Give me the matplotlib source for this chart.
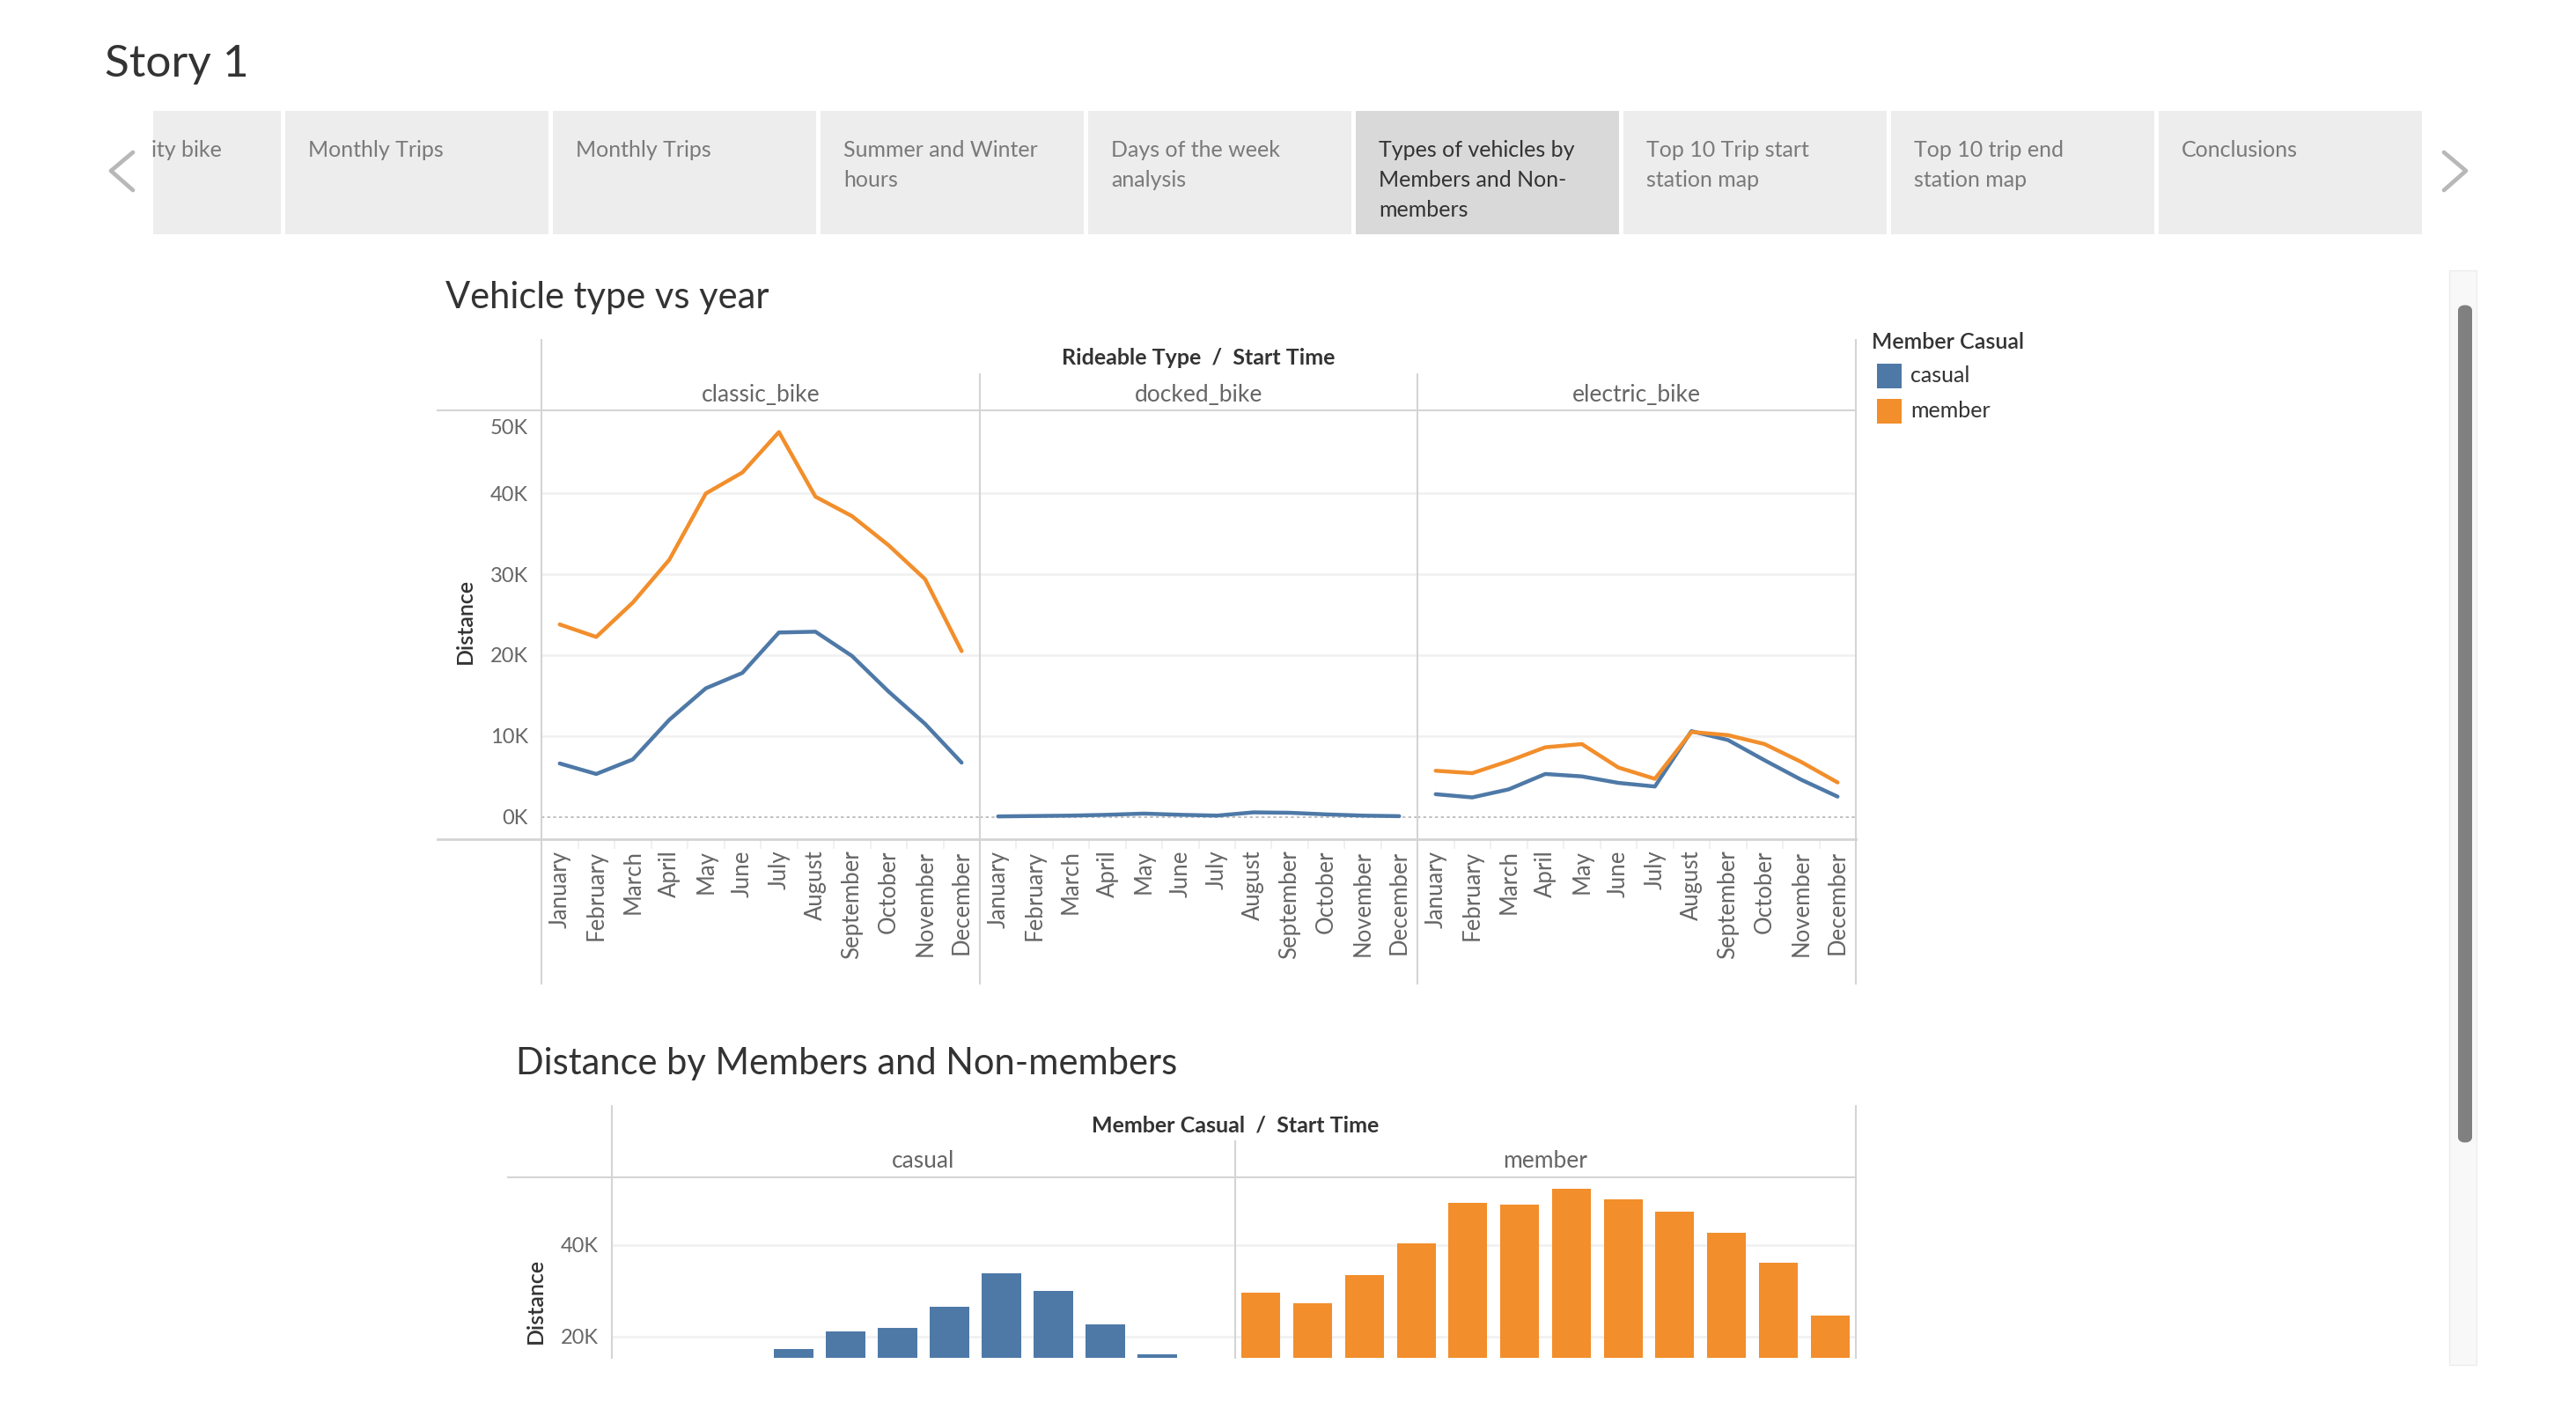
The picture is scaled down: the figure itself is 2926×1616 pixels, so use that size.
import matplotlib
matplotlib.use("Agg")
import matplotlib.pyplot as plt
from matplotlib.patches import Rectangle, FancyBboxPatch
from matplotlib.lines import Line2D

plt.rcParams["font.family"] = ["Lato", "DejaVu Sans"]

# ==========================================
# DATA
# ==========================================

months = ["January", "February", "March", "April", "May", "June", "July",
          "August", "September", "October", "November", "December"]

rideable_types = ["classic_bike", "docked_bike", "electric_bike"]

classic_casual = [6600, 5300, 7100, 12000, 15900, 17800, 22800, 22900, 19900, 15500, 11500, 6700]
classic_member = [23800, 22250, 26500, 31800, 40000, 42600, 47600, 39600, 37200, 33600, 29400, 20500]

docked_casual = [50, 100, 150, 250, 400, 250, 150, 550, 500, 300, 150, 80]

electric_casual = [2800, 2400, 3400, 5300, 5000, 4200, 3750, 10600, 9500, 7000, 4600, 2500]
electric_member = [5700, 5400, 6900, 8600, 9000, 6100, 4700, 10500, 10100, 9000, 6800, 4250]

# bottom chart: total distance per month (the lowest bars are cut off by the view)
casual_total = [9400, 7900, 10600, 17300, 21100, 21900, 26500, 33800, 30000, 22600, 16100, 9300]
member_total = [29600, 27300, 33400, 40400, 49300, 48900, 52300, 50000, 47300, 42700, 36100, 24600]

tab_labels = [
    ["ity bike"],
    ["Monthly Trips"],
    ["Monthly Trips"],
    ["Summer and Winter", "hours"],
    ["Days of the week", "analysis"],
    ["Types of vehicles by", "Members and Non-", "members"],
    ["Top 10 Trip start", "station map"],
    ["Top 10 trip end", "station map"],
    ["Conclusions"],
]
selected_tab = 5

y_ticks_top = [0, 10000, 20000, 30000, 40000, 50000]
y_ticks_bottom = [20000, 40000]

BLUE = "#4e79a7"
ORANGE = "#f28e2b"
GRID = "#f0f0f0"
LINE = "#d4d4d4"
TXT = "#333333"
LBL = "#666666"

# ==========================================
# FIGURE / PIXEL HELPERS
# ==========================================

W, H = 2926, 1616
fig = plt.figure(figsize=(W / 100, H / 100), dpi=100)
fig.patch.set_facecolor("white")


def fx(x):
    return x / W


def fy(y):
    return 1 - y / H


def box(x0, y0, x1, y1):
    return [fx(x0), fy(y1), (x1 - x0) / W, (y1 - y0) / H]


def hline(x0, x1, y, color=LINE, lw=1.5):
    fig.add_artist(Line2D([fx(x0), fx(x1)], [fy(y), fy(y)], color=color, lw=lw))


def vline(x, y0, y1, color=LINE, lw=1.5):
    fig.add_artist(Line2D([fx(x), fx(x)], [fy(y0), fy(y1)], color=color, lw=lw))


def k_label(v):
    return f"{v // 1000}K"


# ==========================================
# STORY HEADER AND TABS
# ==========================================

fig.text(fx(119), fy(73), "Story 1", fontsize=37, color=TXT, va="center", ha="left")

tab_w, tab_step = 299, 304
for i, lines in enumerate(tab_labels):
    x0 = 324 + (i - 1) * tab_step
    x1 = x0 + tab_w
    if i == 0:
        x0 = 174
    face = "#d9d9d9" if i == selected_tab else "#ededed"
    fig.add_artist(Rectangle((fx(x0), fy(266)), (x1 - x0) / W, (266 - 126) / H,
                             transform=fig.transFigure, facecolor=face, edgecolor="none"))
    tx = 172 if i == 0 else x0 + 26
    col = TXT if i == selected_tab else "#7a7a7a"
    for j, line in enumerate(lines):
        fig.text(fx(tx), fy(170 + 34 * j), line, fontsize=18, color=col,
                 va="center", ha="left")

# arrows
fig.add_artist(Line2D([fx(151), fx(126), fx(151)], [fy(173), fy(194), fy(216)],
                      color="#b8b8b8", lw=3.4, solid_capstyle="round"))
fig.add_artist(Line2D([fx(2776), fx(2801), fx(2776)], [fy(173), fy(194), fy(216)],
                      color="#b8b8b8", lw=3.4, solid_capstyle="round"))

# ==========================================
# CHART 1 - VEHICLE TYPE VS YEAR
# ==========================================

fig.text(fx(506), fy(338), "Vehicle type vs year", fontsize=30, color=TXT,
         va="center", ha="left")

panel_x = [615, 1113, 1610, 2108]
top_y, bot_y = 466, 953
zero_y, px_per_10k = 927.6, 91.8
ymin = -(bot_y - zero_y) / px_per_10k * 10000
ymax = (zero_y - top_y) / px_per_10k * 10000

series = {
    "classic_bike": [(classic_casual, BLUE), (classic_member, ORANGE)],
    "docked_bike": [(docked_casual, BLUE)],
    "electric_bike": [(electric_casual, BLUE), (electric_member, ORANGE)],
}

fig.text(fx((panel_x[0] + panel_x[-1]) / 2), fy(407), "Rideable Type  /  Start Time",
         fontsize=18, color=TXT, fontweight="bold", ha="center", va="center")

for k, name in enumerate(rideable_types):
    ax = fig.add_axes(box(panel_x[k], top_y, panel_x[k + 1], bot_y))
    ax.set_facecolor("none")
    for vals, col in series[name]:
        ax.plot(range(12), vals, color=col, lw=3.2, solid_capstyle="round", zorder=3)
    ax.set_xlim(-0.5, 11.5)
    ax.set_ylim(ymin, ymax)
    ax.axhline(0, color="#b5b5b5", lw=1.2, ls=(0, (2, 2)), zorder=2)
    for t in y_ticks_top[1:-1]:
        ax.axhline(t, color=GRID, lw=1.8, zorder=1)
    for s in ax.spines.values():
        s.set_visible(False)
    ax.set_xticks(range(12))
    ax.set_xticklabels(months, rotation=90, fontsize=18.5, color=LBL, va="top")
    ax.set_xticks([i + 0.5 for i in range(11)], minor=True)
    ax.tick_params(axis="x", which="major", length=0, pad=9)
    ax.tick_params(axis="x", which="minor", length=8, color="#eeeeee", width=1.2)
    if k == 0:
        ax.set_yticks(y_ticks_top)
        # the top label is pushed inside the pane, like Tableau does
        ax.set_yticklabels([k_label(t) for t in y_ticks_top[:-1]] + [""],
                           fontsize=17, color=LBL)
        ax.annotate(k_label(y_ticks_top[-1]), xy=(0, y_ticks_top[-1]),
                    xycoords=("axes fraction", "data"), xytext=(-15, -18),
                    textcoords="offset pixels", ha="right", va="center",
                    fontsize=17, color=LBL, annotation_clip=False)
        ax.tick_params(axis="y", length=0, pad=11)
    else:
        ax.set_yticks([])
    fig.text(fx((panel_x[k] + panel_x[k + 1]) / 2), fy(448), name, fontsize=19,
             color=LBL, ha="center", va="center")

# frame lines
hline(497, 2108, top_y)
hline(497, 2108, bot_y, lw=2)
vline(615, 386, 1117)
vline(2108, 386, 1117)
vline(1113, 425, 1117)
vline(1610, 425, 1117)

fig.text(fx(528), fy(705), "Distance", fontsize=18, color=TXT, rotation=90,
         ha="center", va="center", fontweight="semibold")

# legend
fig.text(fx(2126), fy(388), "Member Casual", fontsize=18, color=TXT,
         fontweight="semibold", ha="left", va="center")
for j, (lab, col) in enumerate([("casual", BLUE), ("member", ORANGE)]):
    yc = 426.5 + 40.5 * j
    fig.add_artist(Rectangle((fx(2132), fy(yc + 14)), 28 / W, 28 / H,
                             transform=fig.transFigure, facecolor=col, edgecolor="none"))
    fig.text(fx(2170), fy(yc), lab, fontsize=18, color=TXT, ha="left", va="center")

# ==========================================
# CHART 2 - DISTANCE BY MEMBERS AND NON-MEMBERS
# ==========================================

fig.text(fx(586), fy(1208), "Distance by Members and Non-members", fontsize=30,
         color=TXT, va="center", ha="left")

fig.text(fx(1403), fy(1278), "Member Casual  /  Start Time", fontsize=18, color=TXT,
         fontweight="bold", ha="center", va="center")

bar_x = [695, 1403, 2108]
b_top, b_bot = 1337, 1542
y40, y20 = 1414, 1518
px_per_k = (y20 - y40) / 20
b_ymin = 20000 - (b_bot - y20) / px_per_k * 1000
b_ymax = 40000 + (y40 - b_top) / px_per_k * 1000

for k, (name, vals, col) in enumerate([("casual", casual_total, BLUE),
                                       ("member", member_total, ORANGE)]):
    ax = fig.add_axes(box(bar_x[k], b_top, bar_x[k + 1], b_bot))
    ax.set_facecolor("none")
    ax.bar(range(12), vals, width=0.75, color=col, zorder=3)
    ax.set_xlim(-0.5, 11.5)
    ax.set_ylim(b_ymin, b_ymax)
    for t in y_ticks_bottom:
        ax.axhline(t, color=GRID, lw=1.8, zorder=1)
    for s in ax.spines.values():
        s.set_visible(False)
    ax.set_xticks([])
    if k == 0:
        ax.set_yticks(y_ticks_bottom)
        ax.set_yticklabels([k_label(t) for t in y_ticks_bottom], fontsize=17, color=LBL)
        ax.tick_params(axis="y", length=0, pad=11)
    else:
        ax.set_yticks([])
    fig.text(fx((bar_x[k] + bar_x[k + 1]) / 2), fy(1318), name, fontsize=19,
             color=LBL, ha="center", va="center")

hline(577, 2108, b_top)
vline(695, 1256, b_bot)
vline(1403, 1296, b_bot)
vline(2108, 1256, b_bot)

fig.text(fx(608), fy(1477), "Distance", fontsize=18, color=TXT, rotation=90,
         ha="center", va="center", fontweight="semibold")

# ==========================================
# SCROLLBAR
# ==========================================

fig.add_artist(Rectangle((fx(2782), fy(1550)), 31 / W, (1550 - 307) / H,
                         transform=fig.transFigure, facecolor="#f8f8f8",
                         edgecolor="#ececec", lw=1))
fig.add_artist(FancyBboxPatch((fx(2792), fy(1298)), 16 / W, (1298 - 346) / H,
                              boxstyle="round,pad=0,rounding_size=0.004",
                              transform=fig.transFigure, facecolor="#808080",
                              edgecolor="none"))

fig.savefig("out.png", dpi=100, facecolor="white")
